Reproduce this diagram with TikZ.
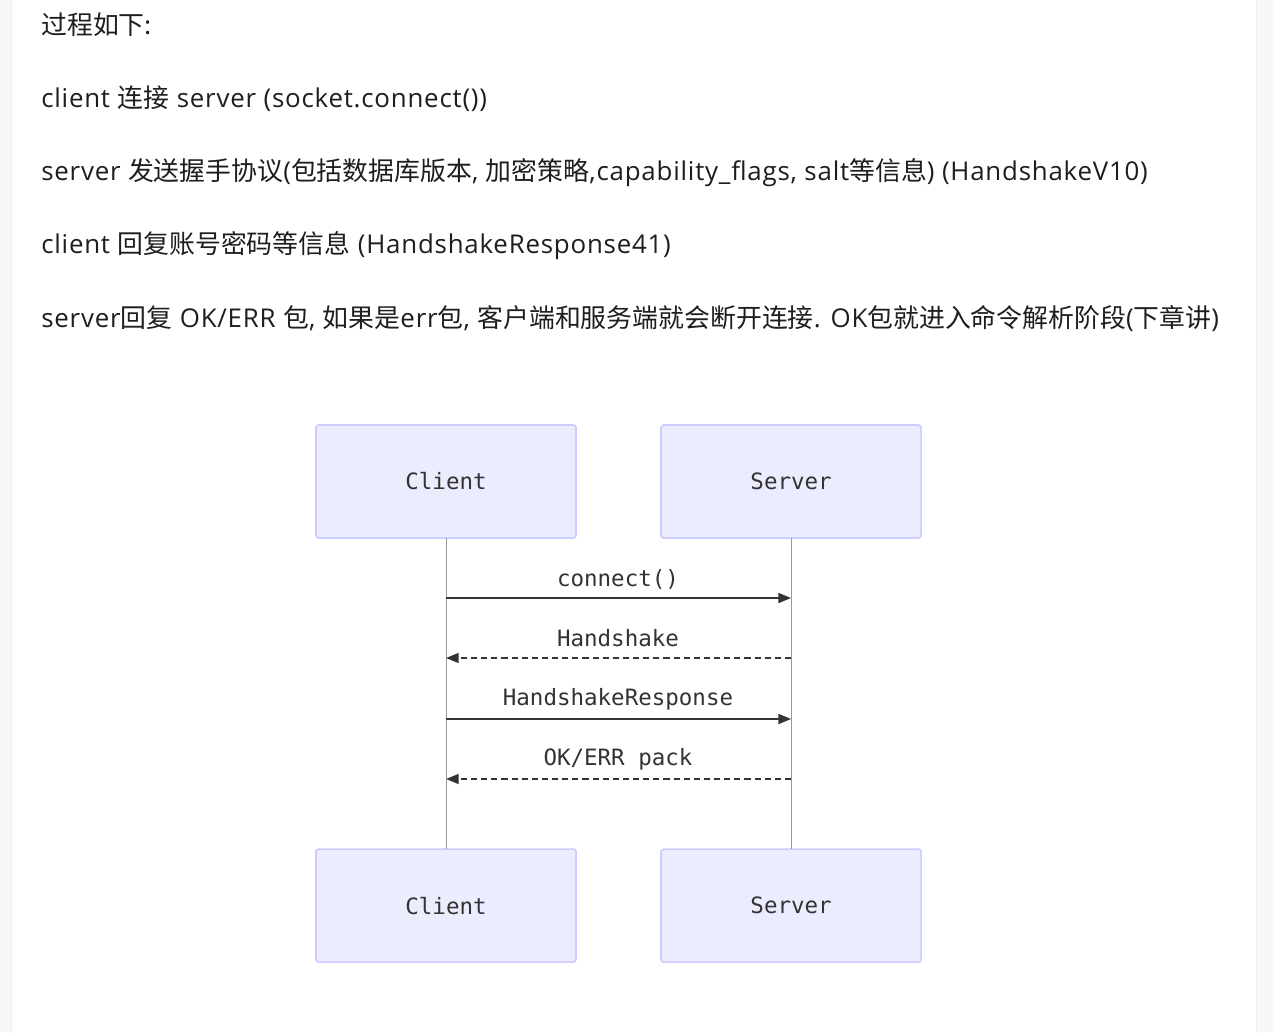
\documentclass[tikz,border=0pt]{standalone}
\usepackage{fontspec}
\setmainfont{Open Sans}[LetterSpace=3]
\newfontfamily\cjk{Noto Sans CJK SC}
\newfontfamily\monofont{DejaVu Sans Mono}
\usetikzlibrary{positioning,arrows.meta}
\definecolor{pagebg}{HTML}{F7F8FA}
\definecolor{panelline}{HTML}{ECEDF0}
\definecolor{actorfill}{HTML}{ECECFF}
\definecolor{actorline}{HTML}{CCCCFF}
\definecolor{msgline}{HTML}{333333}
\definecolor{lifegray}{HTML}{999999}
\definecolor{textcol}{HTML}{1E1E1E}
\newcommand{\zh}[1]{{\cjk #1}}

\begin{document}
\begin{tikzpicture}[
    x=0.025cm, y=-0.025cm,
    node distance=2.125cm,
    para/.style={anchor=base west,inner sep=0pt,text=textcol,font=\fontsize{18.4}{22}\selectfont},
    actor/.style={draw=actorline,fill=actorfill,line width=1.2pt,rounded corners=2pt,outer sep=0pt,
        minimum width=6.5cm,minimum height=2.825cm,text=msgline,font=\monofont\fontsize{16}{19}\selectfont},
    lifeline/.style={draw=lifegray,line width=0.7pt},
    msg/.style={draw=msgline,line width=1.4pt,-{Triangle[length=9pt,width=7pt]}},
    reply/.style={msg,dash pattern=on 4.4pt off 2.8pt},
    lbl/.style={inner sep=0pt,text=msgline,font=\monofont\fontsize{16}{19}\selectfont}
    ]
    \useasboundingbox (0,0) rectangle (1273,1032);
    % page and panel
    \fill[pagebg] (0,0) rectangle (1273,1032);
    \filldraw[fill=white,draw=panelline] (11,-2) rectangle (1256,1034);

    % text above the diagram
    \node[para] (t1) at (41,34) {\zh{过程如下:}};
    \node[para] (t2) at (41,107) {client \zh{连接} server (socket.connect())};
    \node[para] (t3) at (41,180) {server \zh{发送握手协议}(\zh{包括数据库版本}, \zh{加密策略},capability\_flags, salt\zh{等信息}) (HandshakeV10)};
    \node[para] (t4) at (41,253) {client \zh{回复账号密码等信息} (HandshakeResponse41)};
    \node[para] (t5) at (41,327) {server\zh{回复} OK/ERR \zh{包}, \zh{如果是}err\zh{包}, \zh{客户端和服务端就会断开连接}. OK\zh{包就进入命令解析阶段}(\zh{下章讲})};

    % actors
    \node[actor] (clientTop) at (446,481.5) {Client};
    \node[actor] (serverTop) [right=of clientTop] {Server};
    \node[actor] (clientBot) [below=7.775cm of clientTop] {Client};
    \node[actor] (serverBot) [below=7.775cm of serverTop] {Server};
    \draw[lifeline] (clientTop) -- (clientBot);
    \draw[lifeline] (serverTop) -- (serverBot);

    % messages
    \coordinate (c1) at (clientTop |- 0,598);
    \coordinate (s1) at (serverTop |- 0,598);
    \coordinate (c2) at (clientTop |- 0,658);
    \coordinate (s2) at (serverTop |- 0,658);
    \coordinate (c3) at (clientTop |- 0,719);
    \coordinate (s3) at (serverTop |- 0,719);
    \coordinate (c4) at (clientTop |- 0,779);
    \coordinate (s4) at (serverTop |- 0,779);
    \node[lbl] (m1) at (618,579) {connect()};
    \node[lbl] (m2) at (618,638) {Handshake};
    \node[lbl] (m3) at (618,699) {HandshakeResponse};
    \node[lbl] (m4) at (618,759) {OK/ERR pack};
    \draw[msg] (c1) -- (s1);
    \draw[reply] (s2) -- (c2);
    \draw[msg] (c3) -- (s3);
    \draw[reply] (s4) -- (c4);
\end{tikzpicture}
\end{document}
